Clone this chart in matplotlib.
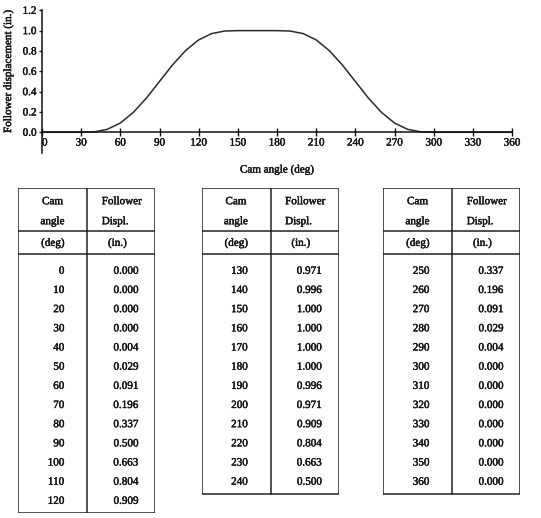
import matplotlib
matplotlib.use("Agg")
import matplotlib.pyplot as plt
import matplotlib.text as mtext
import matplotlib.patheffects as pe

plt.rcParams['font.family'] = ['Liberation Serif', 'DejaVu Serif']

# ---- data ----
cam_angle = [0, 10, 20, 30, 40, 50, 60, 70, 80, 90, 100, 110, 120,
             130, 140, 150, 160, 170, 180, 190, 200, 210, 220, 230, 240,
             250, 260, 270, 280, 290, 300, 310, 320, 330, 340, 350, 360]
follower_displ = [0.000, 0.000, 0.000, 0.000, 0.004, 0.029, 0.091, 0.196, 0.337, 0.500, 0.663, 0.804, 0.909,
                  0.971, 0.996, 1.000, 1.000, 1.000, 1.000, 0.996, 0.971, 0.909, 0.804, 0.663, 0.500,
                  0.337, 0.196, 0.091, 0.029, 0.004, 0.000, 0.000, 0.000, 0.000, 0.000, 0.000, 0.000]
x_ticks = [0, 30, 60, 90, 120, 150, 180, 210, 240, 270, 300, 330, 360]
y_ticks = [0.0, 0.2, 0.4, 0.6, 0.8, 1.0, 1.2]
header_col1 = ["Cam", "angle", "(deg)"]
header_col2 = ["Follower", "Displ.", "(in.)"]
table_splits = [(0, 13), (13, 25), (25, 37)]

W, H = 541, 518
fig = plt.figure(figsize=(W / 100, H / 100), dpi=100)
TXT = '#111111'
LINE = '#222222'
FS = 8

# ---- plot ----
ax_l, ax_r, ax_t, ax_b = 42, 512, 10.3, 152.6
ax = fig.add_axes([ax_l / W, (H - ax_b) / H, (ax_r - ax_l) / W, (ax_b - ax_t) / H])
ax.plot(cam_angle, follower_displ, color='#2a2a2a', lw=1.1)
ax.set_xlim(0, 360)
ax.set_ylim(-0.2, 1.2)
ax.set_xticks(x_ticks)
ax.set_yticks(y_ticks)
ax.set_yticklabels([f"{v:.1f}" for v in y_ticks])
ax.spines['top'].set_visible(False)
ax.spines['right'].set_visible(False)
ax.spines['bottom'].set_position(('data', 0))
for s in ('left', 'bottom'):
    ax.spines[s].set_linewidth(1.1)
    ax.spines[s].set_color('#111111')
ax.tick_params(axis='x', direction='inout', length=6, width=1.0, pad=1.5,
               labelsize=FS, colors=TXT)
ax.tick_params(axis='y', direction='out', length=2.5, width=1.0, pad=1.5,
               labelsize=FS, colors=TXT)
lbl0 = ax.get_xticklabels()[0]
lbl0.set_ha('left')
ax.set_xlabel("Cam angle (deg)", fontsize=FS, color=TXT, va='center')
ax.xaxis.set_label_coords(0.5, (ax_b - 170) / (ax_b - ax_t))
ax.set_ylabel("Follower displacement (in.)", fontsize=FS, color=TXT, va='center')
ax.yaxis.set_label_coords((8.5 - ax_l) / (ax_r - ax_l), 0.8 / 1.4)

# ---- tables ----
row0 = 271.3
row_h = 19.17
t_top, t_bot = 188.0, 513.3
y_top = (t_top - row0) / row_h
y_bot = (t_bot - row0) / row_h
hline1 = (231 - row0) / row_h
hline2 = (254 - row0) / row_h
hdr_y = [(201.7 - row0) / row_h, (221.7 - row0) / row_h, (243.3 - row0) / row_h]
tables_left = [18.3, 201.7, 383.3]
tw = 137.0
div = 0.504

for tl, (i0, i1) in zip(tables_left, table_splits):
    tax = fig.add_axes([tl / W, (H - t_bot) / H, tw / W, (t_bot - t_top) / H])
    tax.set_xlim(0, 1)
    tax.set_ylim(y_bot, y_top)
    tax.axis('off')
    n = i1 - i0
    bottom = n - 1 + 0.6
    kw = dict(color=LINE, lw=1.1, solid_capstyle='projecting')
    tax.plot([0, 1, 1, 0, 0], [y_top, y_top, bottom, bottom, y_top], **kw)
    tax.plot([div, div], [y_top, bottom], **kw)
    tax.plot([0, 1], [hline1, hline1], **kw)
    tax.plot([0, 1], [hline2, hline2], **kw)
    tax.text(0.25, hdr_y[0], header_col1[0], ha='center', va='center', fontsize=FS, color=TXT)
    tax.text(0.25, hdr_y[1], header_col1[1], ha='center', va='center', fontsize=FS, color=TXT)
    tax.text(0.252, hdr_y[2], header_col1[2], ha='center', va='center', fontsize=FS, color=TXT)
    tax.text(0.609, hdr_y[0], header_col2[0], ha='left', va='center', fontsize=FS, color=TXT)
    tax.text(0.609, hdr_y[1], header_col2[1], ha='left', va='center', fontsize=FS, color=TXT)
    tax.text(0.723, hdr_y[2], header_col2[2], ha='center', va='center', fontsize=FS, color=TXT)
    for r, k in enumerate(range(i0, i1)):
        tax.text(0.336, r, f"{cam_angle[k]}", ha='right', va='center', fontsize=FS, color=TXT)
        tax.text(0.876, r, f"{follower_displ[k]:.3f}", ha='right', va='center', fontsize=FS, color=TXT)

# slightly heavier, scan-like text weight
for t in fig.findobj(mtext.Text):
    t.set_path_effects([pe.withStroke(linewidth=0.3, foreground=TXT)])

fig.savefig("out.png", dpi=100, facecolor='white')
